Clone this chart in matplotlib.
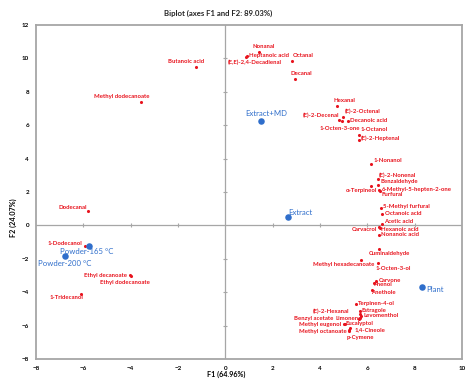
import matplotlib
matplotlib.use('Agg')
import matplotlib.pyplot as plt

# variables (red) - coordinates
compounds = ['Butanoic acid', 'Methyl dodecanoate', 'Nonanal', 'Heptanoic acid',
             '(E,E)-2,4-Decadienal', 'Octanal', 'Decanal', 'Hexanal', '(E)-2-Octenal',
             '(E)-2-Decenal', 'Decanoic acid', '1-Octen-3-one', '1-Octanol',
             '(E)-2-Heptenal', '1-Nonanol', '(E)-2-Nonenal', 'Benzaldehyde',
             'α-Terpineol', '6-Methyl-5-hepten-2-one', 'Furfural', '5-Methyl furfural',
             'Octanoic acid', 'Acetic acid', 'Carvacrol', 'Hexanoic acid',
             'Nonanoic acid', 'Cuminaldehyde', 'Methyl hexadecanoate', '1-Octen-3-ol',
             'Carvone', 'Phenol', 'Anethole', 'Terpinen-4-ol', 'Estragole',
             'Levomenthol', 'Limonene', 'Benzyl acetate', '(E)-2-Hexanal', 'Eucalyptol',
             'Methyl eugenol', '1,4-Cineole', 'Methyl octanoate', 'p-Cymene',
             'Dodecanal', '1-Dodecanol', 'Ethyl decanoate', 'Ethyl dodecanoate',
             '1-Tridecanol']
comp_f1 = [-1.23, -3.58, 1.44, 0.92, 0.88, 2.80, 2.94, 4.73, 4.96, 4.81, 5.17, 4.92,
           5.66, 5.65, 6.14, 6.44, 6.47, 6.16, 6.51, 6.54, 6.58, 6.62, 6.62, 6.48, 6.54,
           6.48, 6.51, 5.73, 6.45, 6.37, 6.27, 6.19, 5.53, 5.70, 5.75, 5.69, 5.65, 5.67,
           5.07, 5.03, 5.27, 5.24, 5.24, -5.79, -5.92, -4.03, -3.99, -6.10]
comp_f2 = [9.46, 7.40, 10.36, 10.14, 10.08, 9.86, 8.78, 7.12, 6.48, 6.34, 6.24, 6.24,
           5.44, 5.10, 3.70, 2.76, 2.44, 2.34, 2.12, 2.06, 1.04, 0.68, 0.10, -0.12, -0.16,
           -0.56, -1.42, -2.10, -2.26, -3.32, -3.42, -3.84, -4.68, -5.10, -5.40, -5.56,
           -5.58, -5.28, -5.90, -5.92, -6.14, -6.26, -6.30, 0.88, -1.26, -2.98, -3.00,
           -4.10]

# observations (blue)
samples = ['Extract+MD', 'Extract', 'Plant', 'Powder-165 °C', 'Powder-200 °C']
samp_f1 = [1.52, 2.65, 8.29, -5.75, -6.78]
samp_f2 = [6.26, 0.48, -3.68, -1.24, -1.84]

# label offsets (pixels, dx right / dy up) from each point
offsets = {
    'Butanoic acid': (-10, 6), 'Methyl dodecanoate': (-19, 5), 'Nonanal': (4, 6),
    'Heptanoic acid': (22, 1), '(E,E)-2,4-Decadienal': (9, -5), 'Octanal': (12, 5),
    'Decanal': (6, 5), 'Hexanal': (7, 6), '(E)-2-Octenal': (20, 6),
    '(E)-2-Decenal': (-18, 4), 'Decanoic acid': (21, 1), '1-Octen-3-one': (-2, -7),
    '1-Octanol': (15, 5), '(E)-2-Heptenal': (21, 2), '1-Nonanol': (17, 3),
    '(E)-2-Nonenal': (20, 4), 'Benzaldehyde': (21, 3), 'α-Terpineol': (-10, -4),
    '6-Methyl-5-hepten-2-one': (37, 1), 'Furfural': (12, -3),
    '5-Methyl furfural': (25, 2), 'Octanoic acid': (21, 1), 'Acetic acid': (17, 2),
    'Carvacrol': (-14, -2), 'Hexanoic acid': (20, -1), 'Nonanoic acid': (21, 0),
    'Cuminaldehyde': (10, -4), 'Methyl hexadecanoate': (-17, -4),
    '1-Octen-3-ol': (15, -5), 'Carvone': (14, 0), 'Phenol': (9, -2),
    'Anethole': (12, -3), 'Terpinen-4-ol': (20, 0), 'Estragole': (14, 0),
    'Levomenthol': (20, 0), 'Limonene': (-11, 0), 'Benzyl acetate': (-45, 0),
    '(E)-2-Hexanal': (-29, 2), 'Eucalyptol': (14, 0), 'Methyl eugenol': (-24, 0),
    '1,4-Cineole': (20, -2), 'Methyl octanoate': (-26, -2), 'p-Cymene': (11, -7),
    'Dodecanal': (-16, 3), '1-Dodecanol': (-20, 3), 'Ethyl decanoate': (-24, 0),
    'Ethyl dodecanoate': (-6, -7), '1-Tridecanol': (-14, -4),
    'Extract+MD': (5, 7), 'Extract': (12, 5), 'Plant': (13, -3),
    'Powder-165 °C': (-3, -5), 'Powder-200 °C': (0, -7),
}

red = '#e8141e'
blue = '#2f6ecb'
grey = '#a6a6a6'

plt.rcParams['font.family'] = ['Lato', 'DejaVu Sans']

fig = plt.figure(figsize=(4.74, 3.81), dpi=100)
ax = fig.add_axes([0.0759, 0.0577, 0.8988, 0.8767])

ax.axhline(0, color=grey, lw=0.9, zorder=1)
ax.axvline(0, color=grey, lw=0.9, zorder=1)

ax.scatter(comp_f1, comp_f2, s=5, color=red, zorder=3, linewidths=0)
ax.scatter(samp_f1, samp_f2, s=22, color=blue, zorder=3, linewidths=0)

for name, x, y in zip(compounds, comp_f1, comp_f2):
    ax.annotate(name, (x, y), xytext=offsets[name], textcoords='offset pixels',
                ha='center', va='center', fontsize=4.3, fontweight='bold', color=red)
for name, x, y in zip(samples, samp_f1, samp_f2):
    ax.annotate(name, (x, y), xytext=offsets[name], textcoords='offset pixels',
                ha='center', va='center', fontsize=5.6, color=blue)

ax.set_xlim(-8, 10)
ax.set_ylim(-8, 12)
xt = list(range(-8, 11, 2))
yt = list(range(-8, 13, 2))
ax.set_xticks(xt)
ax.set_yticks(yt)
ax.tick_params(length=0, labelsize=4.5, pad=5)
for lab in ax.get_xticklabels() + ax.get_yticklabels():
    lab.set_fontweight('bold')

# small tick marks on the zero axes
xm = [v for v in xt if v not in (-8, 0, 10)]
ym = [v for v in yt if v not in (-8, 0, 12)]
ax.plot(xm, [0] * len(xm), ls='none', marker='|', ms=3, color=grey, mew=0.8, zorder=1)
ax.plot([0] * len(ym), ym, ls='none', marker='_', ms=3, color=grey, mew=0.8, zorder=1)

for sp in ax.spines.values():
    sp.set_color(grey)
    sp.set_linewidth(1.3)

ax.set_xlabel('F1 (64.96%)', fontsize=5.2, fontweight='bold')
ax.xaxis.set_label_coords(0.446, -0.035)
ax.set_ylabel('F2 (24.07%)', fontsize=5.2, fontweight='bold')
ax.yaxis.set_label_coords(-0.045, 0.422)

fig.text(0.46, 0.965, 'Biplot (axes F1 and F2: 89.03%)', ha='center', va='center',
         fontsize=5.6, fontweight='bold', color='#262626')

fig.savefig('out.png', dpi=100)
